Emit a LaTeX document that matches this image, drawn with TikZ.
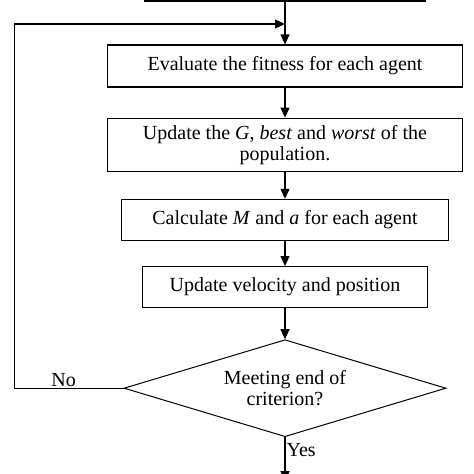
\documentclass[tikz,border=0pt]{standalone}
\usepackage{fontspec}
\setmainfont{Liberation Serif}
\usetikzlibrary{shapes.geometric, arrows.meta, positioning}

\begin{document}
\begin{tikzpicture}[
  x=1pt, y=1pt,
  node distance=28pt,
  block/.style={rectangle, draw=black, line width=1.2pt, minimum height=41pt, font=\fontsize{20}{21}\selectfont, text centered, align=center, inner sep=2pt},
  decision/.style={diamond, draw=black, line width=1pt, minimum width=322pt, minimum height=97pt, aspect=3.3, inner sep=0pt, font=\fontsize{20}{21.5}\selectfont, align=center},
  arrow/.style={-{Triangle[length=10pt, width=9pt]}, line width=1.2pt},
  lbl/.style={font=\fontsize{20}{21}\selectfont, inner sep=1pt}
]
  \useasboundingbox (0,0) rectangle (474,-474);
  \node[block, minimum width=280pt, line width=2.5pt, anchor=south] (init) at (285,-2) {};
  \node[block, minimum width=355pt, minimum height=42pt] (fitness) at (285,-66) {Evaluate the fitness for each agent};
  \node[block, minimum width=355pt, minimum height=53pt, below=30pt of fitness] (update) {Update the \textit{G}, \textit{best} and \textit{worst} of the\\population.};
  \node[block, minimum width=327pt, below=27pt of update] (calc) {Calculate \textit{M} and \textit{a} for each agent};
  \node[block, minimum width=285pt, below=25pt of calc] (move) {Update velocity and position};
  \node[decision, below=31pt of move] (decide) {Meeting end of\\criterion?};
  \coordinate[below=22pt of init.south] (merge);
  \coordinate[below=44pt of decide.south] (finish);

  \draw[arrow] (init) -- (fitness);
  \draw[arrow] (fitness) -- (update);
  \draw[arrow] (update) -- (calc);
  \draw[arrow] (calc) -- (move);
  \draw[arrow] (move) -- (decide);
  \draw[arrow] (decide.south) -- node[lbl, right, pos=0.3] {Yes} (finish);
  \draw[arrow] (decide.west) -- node[lbl, above, pos=0.55] {No} ++(-109,0) |- (merge);
\end{tikzpicture}
\end{document}
